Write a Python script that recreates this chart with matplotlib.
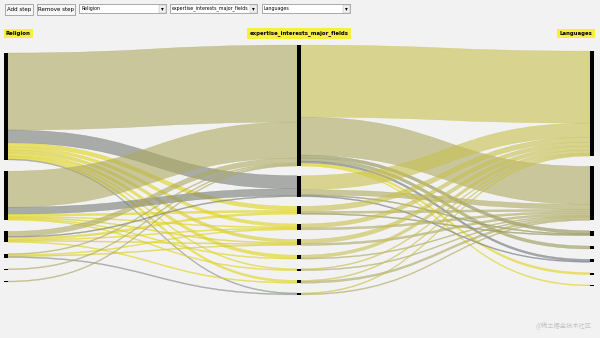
import matplotlib.pyplot as plt
from matplotlib.path import Path
from matplotlib.patches import PathPatch, Rectangle

plt.rcParams['font.family'] = ['DejaVu Sans', 'Noto Sans CJK SC']

dims = ["Religion", "expertise_interests_major_fields", "Languages"]

# node sizes per dimension (top to bottom)
religion_sizes = [107, 49, 11, 4, 1, 1]
field_sizes = [121, 21, 8, 6, 6, 4, 2, 3, 2]
language_sizes = [105, 54, 5, 3, 3, 2, 1]

# flows: rows = source node, cols = target node
religion_to_field = [
    [77, 13, 4, 3, 3, 3, 1, 2, 1],
    [36, 7, 2, 1, 1, 1, 1, 0, 0],
    [5, 1, 2, 1, 1, 0, 0, 1, 0],
    [1, 0, 0, 1, 1, 0, 0, 0, 1],
    [1, 0, 0, 0, 0, 0, 0, 0, 0],
    [1, 0, 0, 0, 0, 0, 0, 0, 0],
]
field_to_language = [
    [72, 38, 3, 3, 2, 2, 1],
    [14, 5, 1, 0, 1, 0, 0],
    [5, 2, 1, 0, 0, 0, 0],
    [4, 2, 0, 0, 0, 0, 0],
    [4, 2, 0, 0, 0, 0, 0],
    [3, 1, 0, 0, 0, 0, 0],
    [1, 1, 0, 0, 0, 0, 0],
    [1, 2, 0, 0, 0, 0, 0],
    [1, 1, 0, 0, 0, 0, 0],
]

field_colors = ["#aeaa61", "#777d78", "#e1d419", "#e1d419", "#d8cd2a",
                "#e1d419", "#e1d419", "#e1d419", "#8a8f88"]
language_colors = ["#c7c04d", "#aeaa61", "#8f8e50", "#9a9a58", "#6f7680",
                   "#e1d419", "#e1d419"]

bg = "#f2f2f2"
axis_x = [4, 297, 590]
bar_w = 4
# vertical centre and gap between nodes for each axis
axis_center = [167.5, 170, 168.5]
axis_gap = [11.2, 9.6, 10.3]


def layout(sizes, k):
    total = sum(sizes) + axis_gap[k] * (len(sizes) - 1)
    tops = []
    y = axis_center[k] - total / 2
    for s in sizes:
        tops.append(y)
        y += s + axis_gap[k]
    return tops


fig = plt.figure(figsize=(6, 3.38), dpi=100, facecolor=bg)
ax = fig.add_axes([0, 0, 1, 1])
ax.set_xlim(0, 600)
ax.set_ylim(338, 0)
ax.axis('off')
ax.set_facecolor(bg)


def draw_links(matrix, src_sizes, dst_sizes, ka, kb, colors_fn):
    src_off = layout(src_sizes, ka)
    dst_off = layout(dst_sizes, kb)
    x0 = axis_x[ka] + bar_w
    x1 = axis_x[kb]
    xm = (x0 + x1) / 2
    for i, row in enumerate(matrix):
        for j, v in enumerate(row):
            if v == 0:
                continue
            s0, t0 = src_off[i], dst_off[j]
            s1, t1 = s0 + v, t0 + v
            src_off[i] = s1
            dst_off[j] = t1
            verts = [(x0, s0), (xm, s0), (xm, t0), (x1, t0),
                     (x1, t1), (xm, t1), (xm, s1), (x0, s1), (x0, s0)]
            codes = [Path.MOVETO, Path.CURVE4, Path.CURVE4, Path.CURVE4,
                     Path.LINETO, Path.CURVE4, Path.CURVE4, Path.CURVE4,
                     Path.CLOSEPOLY]
            c = colors_fn(i, j)
            ax.add_patch(PathPatch(Path(verts, codes), facecolor=c,
                                   edgecolor=c, lw=0.3, alpha=0.6))


draw_links(religion_to_field, religion_sizes, field_sizes, 0, 1,
           lambda i, j: field_colors[j])
draw_links(field_to_language, field_sizes, language_sizes, 1, 2,
           lambda i, j: language_colors[j])

# node bars
for k, sizes in enumerate([religion_sizes, field_sizes, language_sizes]):
    for top, s in zip(layout(sizes, k), sizes):
        ax.add_patch(Rectangle((axis_x[k], top), bar_w, s, facecolor='black', lw=0))

# dimension labels
label_kw = dict(fontsize=3.9, fontweight='bold', va='center',
                bbox=dict(boxstyle='square,pad=0.45', fc='#f7ef3c', ec='none'))
ax.text(axis_x[0] + 2, 33.5, dims[0], ha='left', **label_kw)
ax.text(axis_x[1] + bar_w / 2, 33.5, dims[1], ha='center', **label_kw)
ax.text(axis_x[2] + bar_w - 1.5, 33.5, dims[2], ha='right', **label_kw)

# top controls
buttons = [("Add step", 5, 28), ("Remove step", 37, 38)]
for txt, x, w in buttons:
    ax.add_patch(Rectangle((x, 3.5), w, 11, fc='#f6f6f6', ec='#8a8a8a', lw=0.5))
    ax.text(x + w / 2, 9, txt, ha='center', va='center', fontsize=4)
selects = [(dims[0], 79, 87), (dims[1], 170, 87), (dims[2], 262, 88)]
for txt, x, w in selects:
    ax.add_patch(Rectangle((x, 4), w, 9, fc='white', ec='#8a8a8a', lw=0.5))
    ax.text(x + 2, 8.5, txt, ha='left', va='center', fontsize=3.4)
    ax.add_patch(Rectangle((x + w - 7, 4.5), 6.5, 8, fc='#f0f0f0', ec='#b0b0b0', lw=0.3))
    ax.text(x + w - 3.7, 8.7, "▾", ha='center', va='center', fontsize=4)

ax.text(592, 326, "@稀土掘金技术社区", ha='right', va='center', fontsize=4.5,
        color='#c4c4c4', family=['Noto Sans CJK SC', 'DejaVu Sans'])

fig.savefig("out.png", dpi=100, facecolor=bg)
